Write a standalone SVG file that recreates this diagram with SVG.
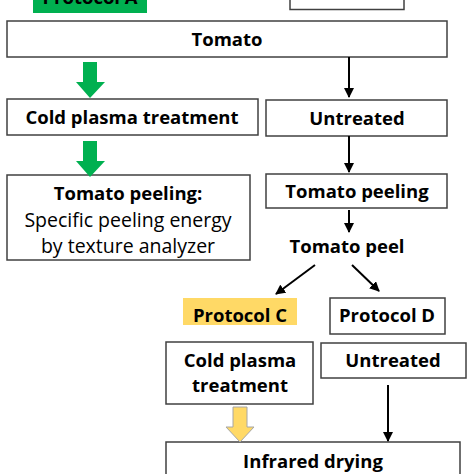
<svg xmlns="http://www.w3.org/2000/svg" width="474" height="474" viewBox="0 0 474 474">
<defs>
<style>
.box{fill:#fff;stroke:#404040;stroke-width:1.5}
.t{font-family:"Open Sans","Liberation Sans",sans-serif;font-size:18.5px;fill:#000;text-anchor:middle}
.b{font-weight:bold}
.r{font-size:19.5px}
.ln{stroke:#000;stroke-width:2;fill:none}
</style>
<marker id="ah" viewBox="0 0 10 10" refX="9" refY="5" markerWidth="5" markerHeight="5" orient="auto" markerUnits="strokeWidth">
<path d="M0,0 L10,5 L0,10 z" fill="#000"/>
</marker>
</defs>
<rect width="474" height="474" fill="#fff"/>
<g id="protocolA">
<rect x="33" y="-5" width="114" height="18" fill="#00B050"/>
<text class="t b" x="90" y="4">Protocol A</text>
</g>
<g id="protocolB">
<rect class="box" x="290" y="-5" width="114" height="14.5"/>
</g>
<g id="tomato">
<rect class="box" x="7" y="21" width="440" height="36"/>
<text class="t b" x="227" y="46">Tomato</text>
</g>
<g id="coldPlasma1">
<rect class="box" x="7" y="99" width="251" height="36"/>
<text class="t b" x="132" y="124">Cold plasma treatment</text>
</g>
<g id="untreated1">
<rect class="box" x="266" y="100" width="181" height="36"/>
<text class="t b" x="357" y="125">Untreated</text>
</g>
<g id="peelingLeft">
<rect class="box" x="7" y="175" width="243" height="85"/>
<text class="t b" x="128" y="200">Tomato peeling:</text>
<text class="t r" x="128" y="227">Specific peeling energy</text>
<text class="t r" x="128" y="253">by texture analyzer</text>
</g>
<g id="peelingRight">
<rect class="box" x="266" y="174" width="181" height="34"/>
<text class="t b" x="357" y="198">Tomato peeling</text>
</g>
<g id="tomatoPeel">
<text class="t b" x="347" y="253">Tomato peel</text>
</g>
<g id="protocolC">
<rect x="183" y="298" width="114" height="27" fill="#FFD966"/>
<text class="t b" x="240" y="322">Protocol C</text>
</g>
<g id="protocolD">
<rect class="box" x="330" y="298" width="115" height="36"/>
<text class="t b" x="387" y="322">Protocol D</text>
</g>
<g id="coldPlasma2">
<rect class="box" x="166" y="342" width="147" height="62"/>
<text class="t b" x="240" y="367">Cold plasma</text>
<text class="t b" x="240" y="392">treatment</text>
</g>
<g id="untreated2">
<rect class="box" x="321" y="343" width="145" height="35"/>
<text class="t b" x="393" y="367">Untreated</text>
</g>
<g id="infrared">
<rect class="box" x="166" y="442" width="294" height="40"/>
<text class="t b" x="313" y="468">Infrared drying</text>
</g>
<g id="connectors">
<path d="M83,62 H97 V82 H105 L90,98 L76,82 H83 Z" fill="#00B050"/>
<path d="M83,141 H97 V161 H105 L90,177 L76,161 H83 Z" fill="#00B050"/>
<path d="M233,407 H247 V427 H254 L240,442 L226,427 H233 Z" fill="#FFD966" stroke="#A6A6A6" stroke-width="1"/>
<line class="ln" x1="349" y1="57" x2="349" y2="97" marker-end="url(#ah)"/>
<line class="ln" x1="349" y1="136" x2="349" y2="172" marker-end="url(#ah)"/>
<line class="ln" x1="349" y1="210" x2="349" y2="232" marker-end="url(#ah)"/>
<line class="ln" x1="315" y1="265" x2="276" y2="294" marker-end="url(#ah)"/>
<line class="ln" x1="352" y1="265" x2="379" y2="291" marker-end="url(#ah)"/>
<line class="ln" x1="388" y1="385" x2="388" y2="441" marker-end="url(#ah)"/>
</g>
</svg>
